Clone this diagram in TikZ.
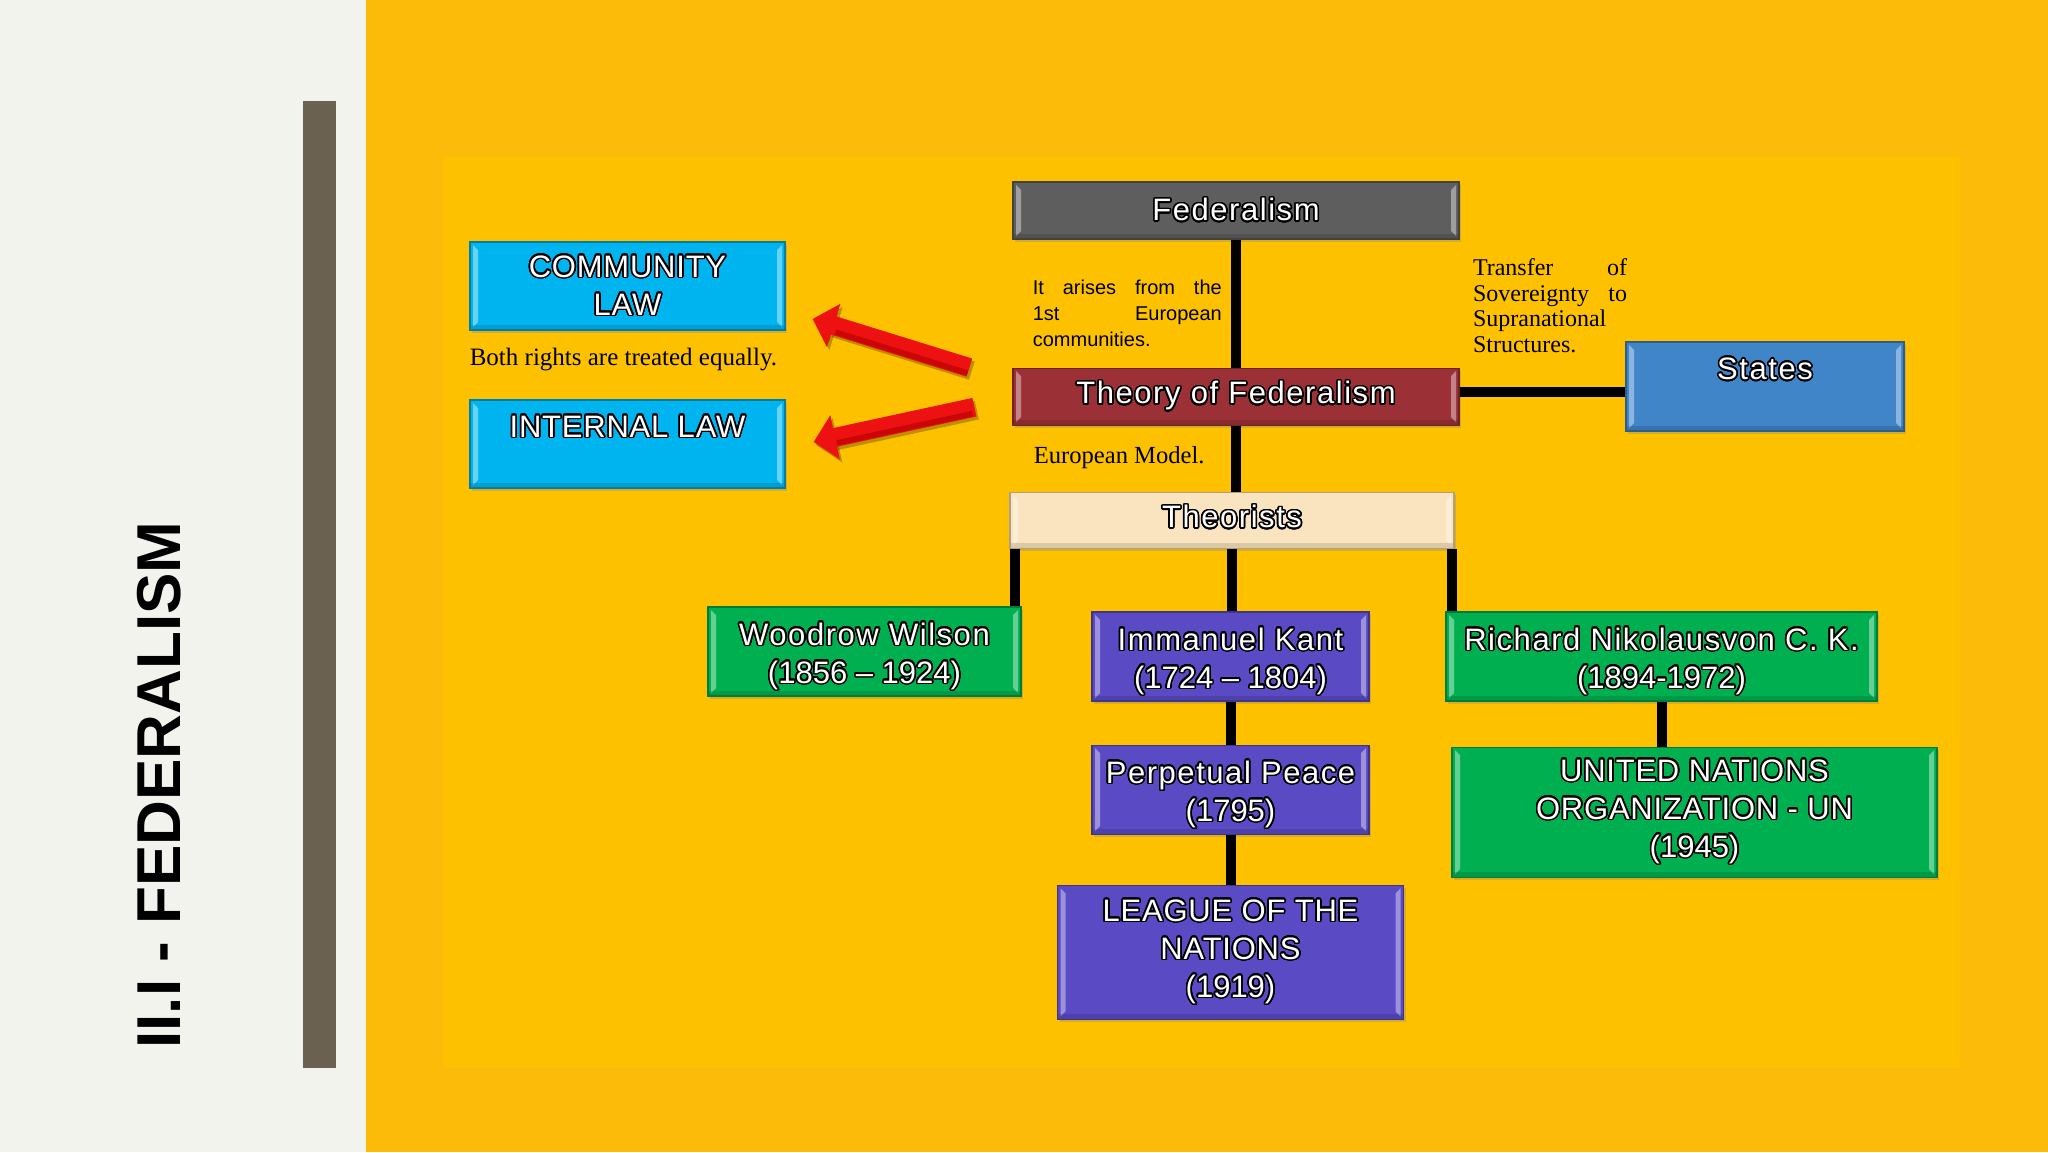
\documentclass[tikz,border=0pt]{standalone}
\usepackage{fontspec}
\setmainfont{Liberation Serif}
\setsansfont{Liberation Sans}
\newfontfamily\boxfont{Liberation Sans}
\newfontfamily\spacedfont[LetterSpace=5]{Liberation Sans}
\newfontfamily\capsfont[LetterSpace=2.5]{Liberation Sans}
\usepackage{contour}
\contourlength{0.8pt}
\contournumber{24}
\usepackage{tikz}
\usetikzlibrary{positioning,calc,arrows.meta,shadows}
\definecolor{panel}{HTML}{F3F3EE}
\definecolor{sidebar}{HTML}{6A6150}
\definecolor{outeryellow}{HTML}{FCBB08}
\definecolor{inneryellow}{HTML}{FEC100}
\definecolor{fedgray}{HTML}{5E5E5E}
\definecolor{theoryred}{HTML}{9B3136}
\definecolor{beige}{HTML}{F9E4BF}
\definecolor{stateblue}{HTML}{3F85C8}
\definecolor{lawcyan}{HTML}{00B4F0}
\definecolor{thinkergreen}{HTML}{00B050}
\definecolor{kantpurple}{HTML}{5A4AC4}
\definecolor{arrowred}{HTML}{EE1111}
\definecolor{arrowdark}{HTML}{B30000}
% outlined box texts
\newcommand{\outl}[1]{\contour{black}{#1}}
\newcommand{\outs}[1]{\contour{black}{\spacedfont #1}}
\newcommand{\outc}[1]{\contour{black}{\capsfont #1}}
\newcommand{\topstrut}{\rule{0pt}{16.5pt}}
\tikzset{
    bevel/.style={path picture={
        \fill[white, opacity=0.4] ([shift={(1.5pt,-1.5pt)}]path picture bounding box.north west) -- ([shift={(4pt,-4pt)}]path picture bounding box.north west) -- ([shift={(4pt,4pt)}]path picture bounding box.south west) -- ([shift={(1.5pt,1.5pt)}]path picture bounding box.south west) -- cycle;
        \fill[white, opacity=0.4] ([shift={(-1.5pt,-1.5pt)}]path picture bounding box.north east) -- ([shift={(-4pt,-4pt)}]path picture bounding box.north east) -- ([shift={(-4pt,4pt)}]path picture bounding box.south east) -- ([shift={(-1.5pt,1.5pt)}]path picture bounding box.south east) -- cycle;
        \fill[black, opacity=0.12] (path picture bounding box.south west) rectangle ([yshift=2.5pt]path picture bounding box.south east);
    }},
    block/.style={rectangle, fill=#1, draw=#1!70!black, line width=0.6pt, align=center, inner sep=2pt, font=\boxfont\fontsize{15.5}{19}\selectfont, text=white, bevel, drop shadow={shadow xshift=1.2pt, shadow yshift=-1.5pt, opacity=0.3}},
    toptext/.style={text height=12pt, text depth=19pt},
    link/.style={line width=5pt, black},
    redarrow/.style={-{Triangle[length=11pt,width=22pt]}, line width=9.5pt, draw=arrowred},
    note/.style={inner sep=0pt}
}
\begin{document}
\begin{tikzpicture}[x=0.5pt, y=-0.5pt]
\useasboundingbox (0,0) rectangle (2048,1152);

% Background
\fill[panel] (0,0) rectangle (366,1152);
\fill[outeryellow] (366,0) rectangle (2048,1152);
\fill[inneryellow] (443,157) rectangle (1960,1068);
\fill[sidebar] (303,101) rectangle (336,1068);
\node[rotate=90, font=\sffamily\bfseries\fontsize{31}{31}\selectfont] (title) at (159,785) {II.I - FEDERALISM};

% Main chain
\node[block=fedgray, minimum width=223pt, minimum height=28.5pt] (fed) at (1236,210.5) {\outs{Federalism}};
\node[block=theoryred, minimum width=223pt, minimum height=28.5pt, below=64pt of fed] (theory) {\outs{Theory of Federalism}};
\node[block=beige, minimum width=222pt, minimum height=28pt, text depth=4pt, below=33pt of theory, xshift=-2pt] (theorists) {\outs{Theorists}};
\node[block=stateblue, minimum width=139pt, minimum height=44.5pt, toptext] (states) at (1765,386.5) {\outs{States}};

% Law boxes
\node[block=lawcyan, minimum width=157.5pt, minimum height=44pt] (community) at (627.5,286) {\outc{COMMUNITY}\\\outc{LAW}};
\node[block=lawcyan, minimum width=157.5pt, minimum height=44pt, toptext] (internal) at (627.5,444) {\outc{INTERNAL LAW}};

% Theorists
\node[block=thinkergreen, minimum width=156.5pt, minimum height=44.5pt] (wilson) at (864.5,651.5) {\topstrut\outs{Woodrow Wilson}\\\outl{(1856 – 1924)}};
\node[block=kantpurple, minimum width=138.5pt, minimum height=44.5pt] (kant) at (1230.5,656.5) {\topstrut\outs{Immanuel Kant}\\\outl{(1724 – 1804)}};
\node[block=kantpurple, minimum width=138.5pt, minimum height=44.5pt, below=21.5pt of kant] (peace) {\topstrut\outs{Perpetual Peace}\\\outl{(1795)}};
\node[block=kantpurple, minimum width=173pt, minimum height=67pt, below=25pt of peace] (league) {\outc{LEAGUE OF THE}\\\outc{NATIONS}\\\outl{(1919)}};
\node[block=thinkergreen, minimum width=215.5pt, minimum height=44.5pt] (richard) at (1661.5,656.5) {\topstrut\outs{Richard Nikolausvon C. K.}\\\outl{(1894-1972)}};
\node[block=thinkergreen, minimum width=242.5pt, minimum height=65pt, below=22.5pt of richard, xshift=16.5pt] (un) {\outc{UNITED NATIONS}\\\outc{ORGANIZATION - UN}\\\outl{(1945)}};

% Notes
\node[note, align=justify, text width=94.5pt, font=\sffamily\fontsize{10}{13}\selectfont, below right=20pt and 10pt of fed.south west] (arises) {It\hfill arises\hfill from\hfill the\\1st\hfill European\\communities.};
\node[note, align=justify, text width=77pt, font=\rmfamily\fontsize{12}{12.75}\selectfont, below right=9.5pt and 6.5pt of fed.south east] (transfer) {Transfer\hfill of\\Sovereignty\hfill to\\Supranational\\Structures.};
\node[note, font=\rmfamily\fontsize{12.5}{14}\selectfont, below right=8.5pt and 0pt of community.south west] (equal) {Both rights are treated equally.};
\node[note, font=\rmfamily\fontsize{12.3}{14}\selectfont, below right=10pt and 10.5pt of theory.south west] (model) {European Model.};

% Links
\draw[link] (fed) -- (theory);
\draw[link] (theory.south) -- (theory.south |- theorists.north);
\draw[link] ([yshift=2.5pt]theory.east) -- ([yshift=2.5pt]theory.east -| states.west);
\coordinate (tleft) at ($(theorists.south west)+(6,0)$);
\coordinate (tright) at ($(theorists.south east)+(-3,0)$);
\draw[link] (tleft) -- (tleft |- wilson.north);
\draw[link] (theorists.south) -- (theorists.south |- kant.north);
\draw[link] (tright) -- (tright |- richard.north);
\draw[link] (kant) -- (peace);
\draw[link] (peace) -- (league);
\draw[link] (richard.south) -- (richard.south |- un.north);

% Red arrows
\coordinate (tail1) at ($(theory.north west)+(-43,0)$);
\coordinate (tip1) at ($(community.east)+(27,33)$);
\coordinate (tail2) at ($(theory.west)+(-38,10.5)$);
\coordinate (tip2) at ($(internal.east)+(28,-2)$);
\draw[redarrow, draw=black, opacity=0.25, transform canvas={shift={(1.2pt,-1.5pt)}}] (tail1) -- (tip1);
\draw[redarrow, draw=black, opacity=0.25, transform canvas={shift={(1.2pt,-1.5pt)}}] (tail2) -- (tip2);
\draw[redarrow] (tail1) -- (tip1);
\draw[redarrow] (tail2) -- (tip2);
\draw[arrowdark, opacity=0.6, line width=2.8pt, shorten >=12pt, shorten <=1pt, transform canvas={shift={(0pt,-3pt)}}] (tail1) -- (tip1);
\draw[arrowdark, opacity=0.6, line width=2.8pt, shorten >=12pt, shorten <=1pt, transform canvas={shift={(0pt,-3pt)}}] (tail2) -- (tip2);

\end{tikzpicture}
\end{document}
